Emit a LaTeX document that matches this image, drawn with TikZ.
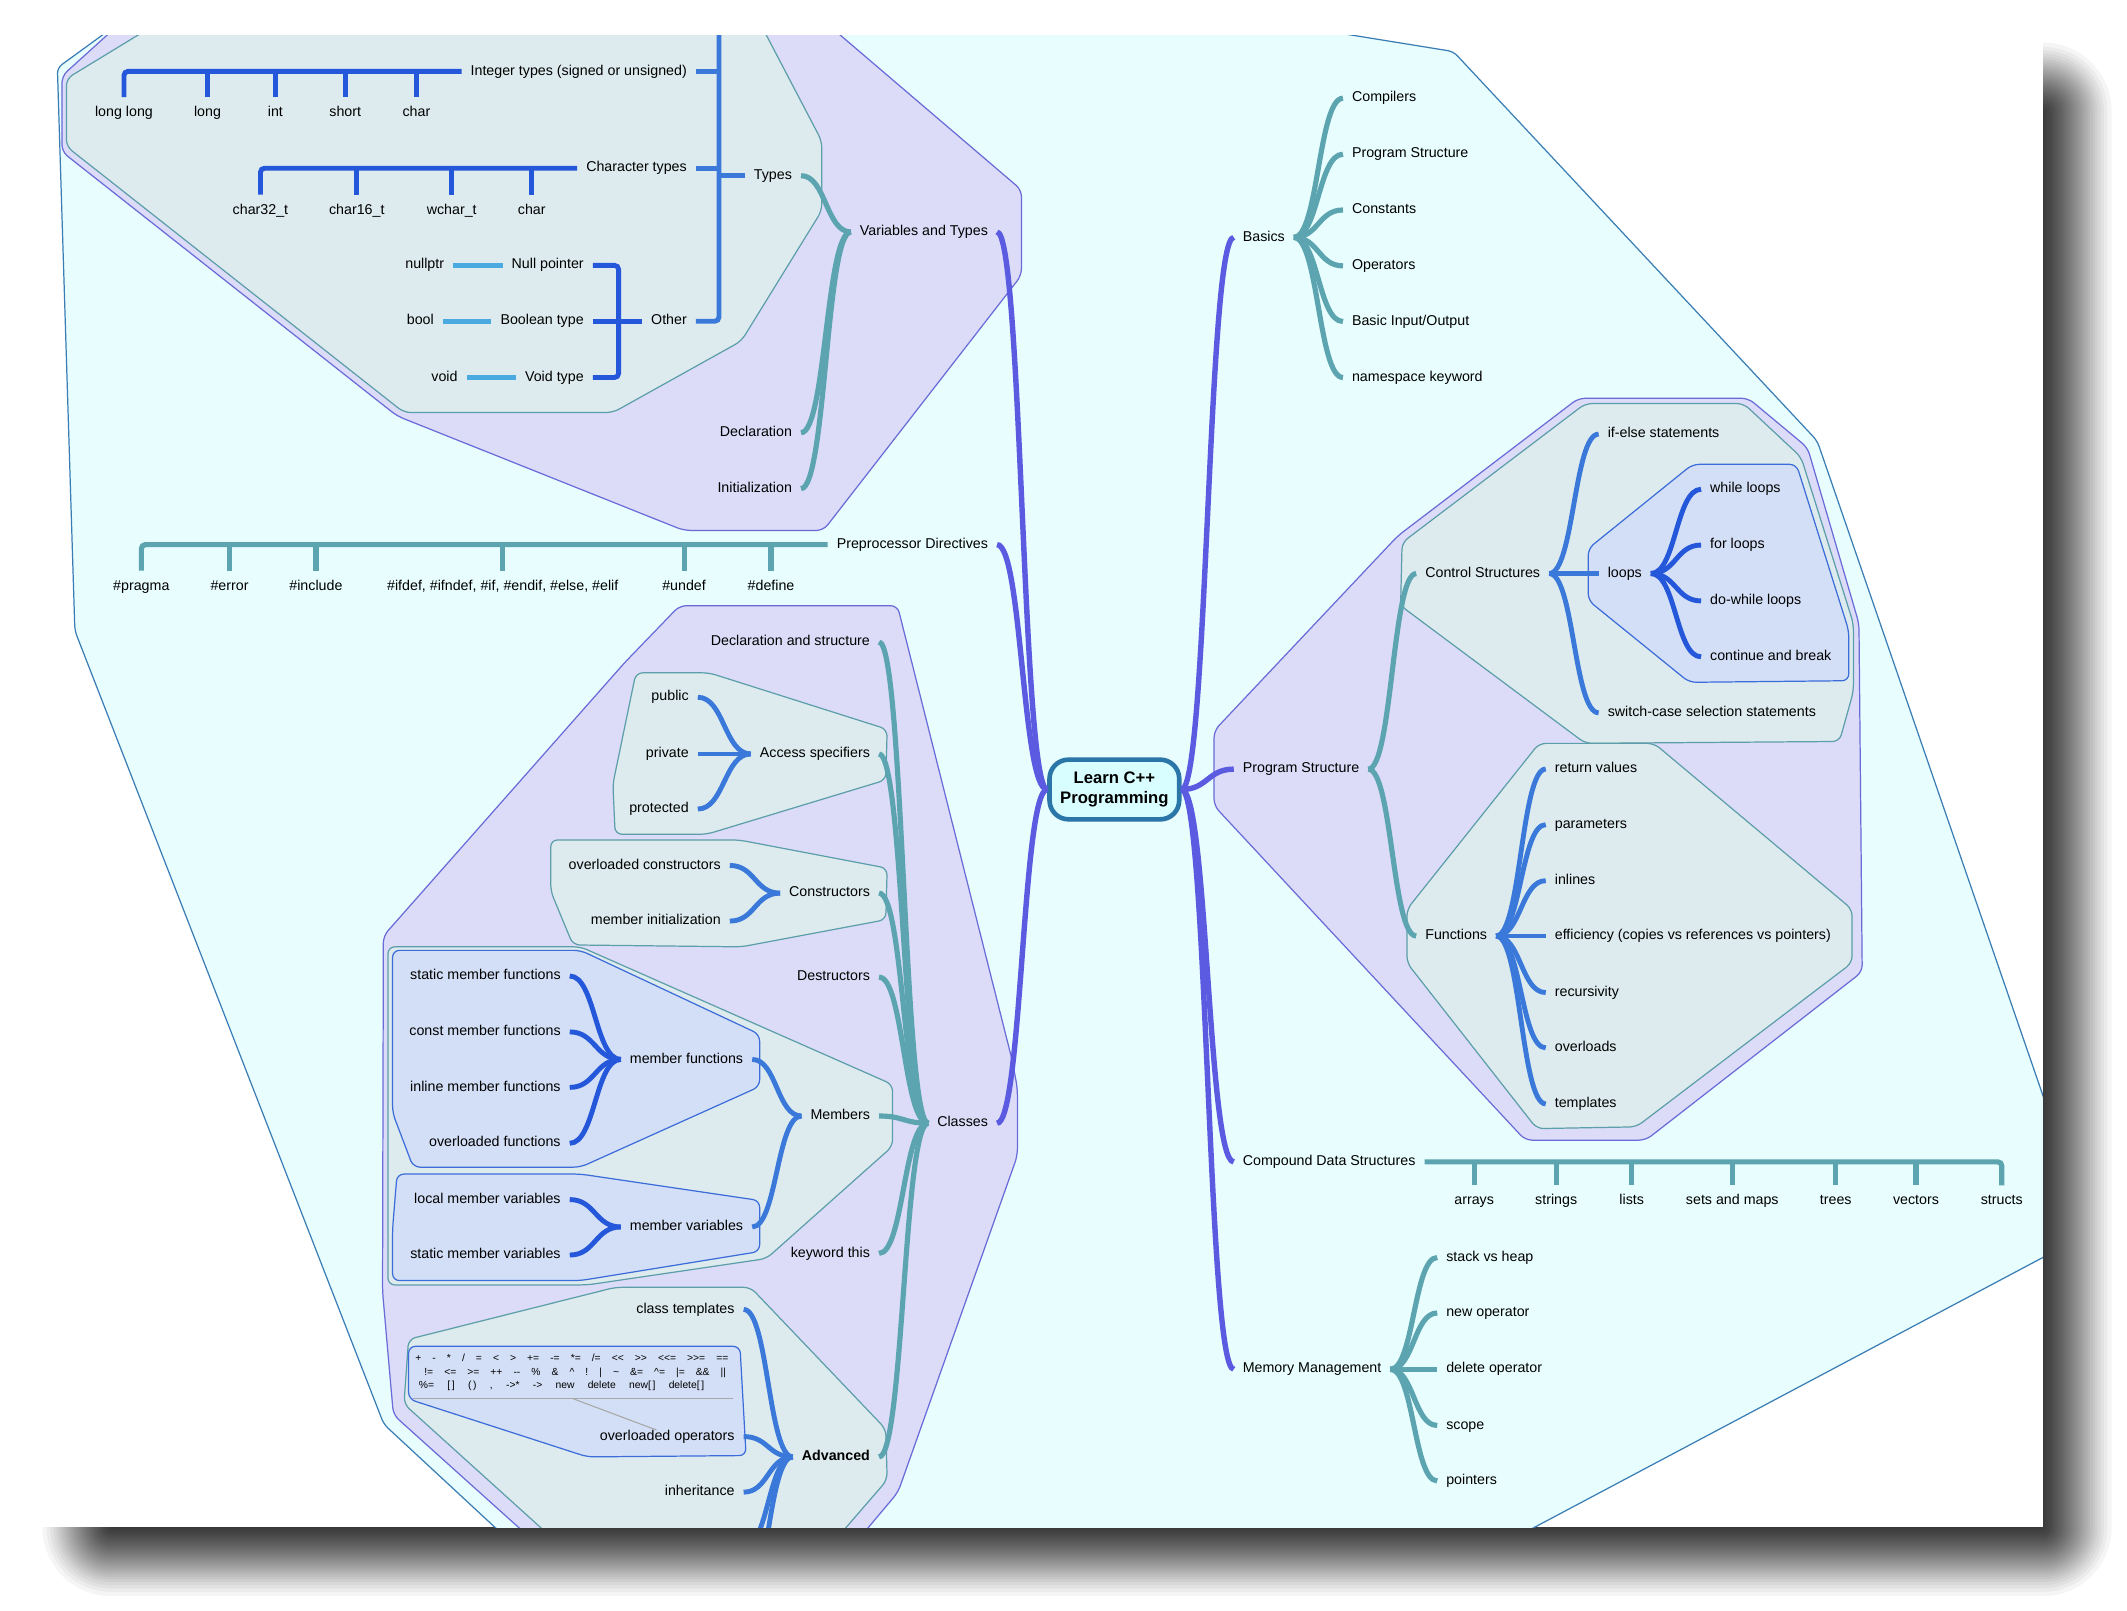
\documentclass[tikz,border=0pt]{standalone}
\usepackage{fontspec}
\setmainfont{Liberation Sans}
\usetikzlibrary{calc,shadows}
\definecolor{cyanfill}{HTML}{E8FDFD}
\definecolor{cyanline}{HTML}{3A7DB5}
\definecolor{lavfill}{HTML}{DCDCF8}
\definecolor{lavline}{HTML}{6A6AD8}
\definecolor{grfill}{HTML}{DDEBEE}
\definecolor{grline}{HTML}{5C9EA9}
\definecolor{blfill}{HTML}{D3DFF6}
\definecolor{blline}{HTML}{3C6CD9}
\definecolor{lkroot}{HTML}{5B5BE1}
\definecolor{lkteal}{HTML}{5BA4B0}
\definecolor{lkmed}{HTML}{3A78D9}
\definecolor{lkdark}{HTML}{2457D9}
\definecolor{lklight}{HTML}{4BA9E1}
\definecolor{rootfill}{HTML}{D8FEFF}
\definecolor{rootline}{HTML}{2A76A8}
\definecolor{notegray}{HTML}{A8A8A8}
\newcommand\lblfont{\fontsize{10.5}{12.6}\selectfont}
\newcommand\opfont{\fontsize{7.6}{9}\selectfont}
\begin{document}
\begin{tikzpicture}[x=1pt,y=-1pt,
  lbl/.style={inner xsep=6.5pt,inner ysep=6.5pt,text height=7.6pt,text depth=2.2pt,font=\lblfont,text=black},
  lw/.style={lbl,anchor=west},
  le/.style={lbl,anchor=east},
  ln/.style={lbl,anchor=north},
  mm/.style={to path={let \p1=(\tikztostart),\p2=(\tikztotarget),\p3=($(\tikztostart)!0.5!(\tikztotarget)$) in .. controls (\x3,\y1) and (\x3,\y2) .. (\tikztotarget)}},
  Lone/.style={draw=lkroot,line width=4pt},
  Ltwo/.style={draw=lkteal,line width=3.8pt},
  Lthree/.style={draw=lkmed,line width=3.6pt},
  Lfour/.style={draw=lkdark,line width=3.6pt},
  Lfive/.style={draw=lklight,line width=3.6pt},
  rc/.style={rounded corners=3pt},
  czero/.style={fill=cyanfill,draw=cyanline,line width=0.9pt,rounded corners=4pt},
  cone/.style={fill=lavfill,draw=lavline,line width=0.9pt,rounded corners=5pt},
  ctwo/.style={fill=grfill,draw=grline,line width=0.9pt,rounded corners=5pt},
  cthree/.style={fill=blfill,draw=blline,line width=0.9pt,rounded corners=5pt},
  opline/.style={anchor=west,inner sep=0pt,font=\opfont,text=black}
]
\useasboundingbox (0,0) rectangle (1568,1187.6);
\fill[white] (0,0) rectangle (1568,1187.6);
% card shadow (soft, towards the lower right)
\foreach \k in {1,...,34} {
  \pgfmathsetmacro\se{56*(1-(\k/34)^(0.6667))}
  \pgfmathsetmacro\sg{\se-28}
  \pgfmathsetmacro\sr{max(\se,1)}
  \fill[black,opacity=0.04,rounded corners=\sr pt] ({54-\sg},{54-\sg}) rectangle ({1534+\sg},{1154+\sg});
}
\fill[white] (26,26) rectangle (1506,1126);
\begin{scope}
\clip (26,26) rectangle (1506,1126);
% ---------- clusters
\path[czero] (100,8) -- (886,8) -- (1071.4,38) -- (1339.6,325) -- (1540.8,908.5) -- (1057.5,1165) -- (407,1165) -- (283,1050) -- (55.2,465) -- (42.3,50) -- cycle;
% depth 1
\path[cone] (102,5) -- (595,5) -- (753,140) -- (753,203) -- (607,391) -- (504,391) -- (292.8,306.7) -- (45.7,111.9) -- (45.7,56) -- cycle;
\path[cone] (501,446.5) -- (661.6,446.5) -- (746,781) -- (750,802) -- (750,852) -- (662,1100) -- (620,1150) -- (409,1150) -- (290,1043) -- (282,952) -- (282.6,690) -- (460.3,488.7) -- cycle;
\path[cone] (1163.6,293.6) -- (1288.8,293.6) -- (1332.5,330) -- (1370.4,459.7) -- (1372.8,716.4) -- (1213.2,840.5) -- (1124.4,840.5) -- (895,594) -- (895,538.7) -- (1030.5,395) -- cycle;
% depth 2
\path[ctwo] (136,5) -- (554,5) -- (605.8,104) -- (605.8,155.3) -- (546.5,251.4) -- (451.9,304.1) -- (297.8,304.1) -- (49,108) -- (49,58) -- cycle;
\path[ctwo] (468.8,496) -- (522.8,496) -- (654,537.6) -- (653,575) -- (521,615) -- (453.5,615) -- (451.8,578) -- cycle;
\path[ctwo] (406,619.2) -- (544.8,619.2) -- (654,640) -- (653,678) -- (546.5,698) -- (422.4,696.6) -- (406,657) -- cycle;
\path[ctwo] (286,698) -- (428,698) -- (658,799.5) -- (658,845) -- (565,927.8) -- (433.2,947.2) -- (286,947.2) -- cycle;
\path[ctwo] (453.6,949) -- (553.3,949) -- (653,1053.5) -- (654,1091) -- (603,1150) -- (425,1150) -- (297.8,1035) -- (301.2,987.3) -- cycle;
\path[ctwo] (1168.7,297.5) -- (1285.4,297.5) -- (1327.7,337) -- (1366.3,459.7) -- (1366.3,509.7) -- (1356,546.6) -- (1168.7,548) -- (1032.5,446.5) -- (1033.6,400) -- cycle;
\path[ctwo] (1134.6,548) -- (1219.4,548) -- (1365.3,670.3) -- (1365.3,709.8) -- (1206.3,830.7) -- (1132.9,832) -- (1037.2,709.8) -- (1037.2,670.3) -- cycle;
% depth 3
\path[cthree] (289.4,700.6) -- (428,700.6) -- (560,762.5) -- (560,801) -- (428,860.4) -- (304.6,860.4) -- (289.4,820.3) -- cycle;
\path[cthree] (292.7,865.5) -- (428,865.5) -- (560,885) -- (560,922.6) -- (428,944) -- (289.4,944) -- (289.4,905.8) -- cycle;
\path[cthree] (301.2,992.5) -- (545.5,992.5) -- (550,1073) -- (433,1074) -- (301.2,1031.4) -- cycle;
\path[cthree] (1247.7,342.3) -- (1324.3,342.3) -- (1362.9,465) -- (1362.9,501.8) -- (1245.3,503) -- (1170.8,442.6) -- (1170.8,404.4) -- cycle;

% ---------- root
\node[draw=rootline,line width=3.4pt,fill=rootfill,rounded corners=14pt,minimum width=95.6pt,minimum height=44pt,align=center,inner sep=0pt,
  font=\bfseries\fontsize{12.3}{15}\selectfont,drop shadow={opacity=0.35,shadow xshift=1.2pt,shadow yshift=-1.5pt}] (root) at (821.5,582) {Learn C++\\Programming};

% ---------- Variables and Types
\node[le] (vat) at (735,171) {Variables and Types};
\node[le] (types) at (590.5,129.5) {Types};
\node[le] (decl) at (590.5,319) {Declaration};
\node[le] (init) at (590.5,360.2) {Initialization};
\node[le] (inttypes) at (513,52.6) {Integer types (signed or unsigned)};
\node[le] (chartypes) at (513,124) {Character types};
\node[le] (other) at (513,236.8) {Other};
\node[le] (nullp) at (437,195.6) {Null pointer};
\node[le] (boolt) at (437,236.8) {Boolean type};
\node[le] (voidt) at (437,278.3) {Void type};
\node[le] (nullk) at (334.1,195.6) {nullptr};
\node[le] (boolk) at (326.5,236.8) {bool};
\node[le] (voidk) at (344,278.3) {void};
\node[ln] (ll) at (91.4,71.6) {long long};
\node[ln] (lng) at (153,71.6) {long};
\node[ln] (intk) at (203,71.6) {int};
\node[ln] (shortk) at (254.5,71.6) {short};
\node[ln] (chark) at (307,71.6) {char};
\node[ln] (cthreetwo) at (192,143.5) {char32\_t};
\node[ln] (conesix) at (263,143.5) {char16\_t};
\node[ln] (wch) at (333,143.5) {wchar\_t};
\node[ln] (chartwo) at (392,143.5) {char};
\coordinate (tsp) at (530,129.5);
\coordinate (tsptop) at (530,8);
\coordinate (osp) at (456,236.8);

% ---------- Preprocessor
\node[le] (prep) at (735,401.5) {Preprocessor Directives};
\node[ln] (pragma) at (104.2,420.7) {\#pragma};
\node[ln] (perror) at (169.2,420.7) {\#error};
\node[ln] (pinclude) at (232.9,420.7) {\#include};
\node[ln] (pifdef) at (370.6,420.7) {\#ifdef, \#ifndef, \#if, \#endif, \#else, \#elif};
\node[ln] (pundef) at (504.3,420.7) {\#undef};
\node[ln] (pdefine) at (568.4,420.7) {\#define};

% ---------- Classes
\node[le] (classes) at (735,828) {Classes};
\node[le] (dstruct) at (648,473.3) {Declaration and structure};
\node[le] (access) at (648,555.8) {Access specifiers};
\node[le] (ctors) at (648,658.4) {Constructors};
\node[le] (dtors) at (648,720.3) {Destructors};
\node[le] (members) at (648,822.7) {Members};
\node[le] (kthis) at (648,924) {keyword this};
\node[le,font=\bfseries\lblfont] (adv) at (648,1074) {Advanced};
\node[le] (publick) at (514.4,514) {public};
\node[le] (privatek) at (514.4,555.8) {private};
\node[le] (protectedk) at (514.4,596.4) {protected};
\node[le] (ovctor) at (538,638) {overloaded constructors};
\node[le] (meminit) at (538,679) {member initialization};
\node[le] (mfuncs) at (554.5,781) {member functions};
\node[le] (mvars) at (554.5,904.5) {member variables};
\node[le] (smf) at (420,719.5) {static member functions};
\node[le] (cmf) at (420,760.7) {const member functions};
\node[le] (imf) at (420,801.6) {inline member functions};
\node[le] (ovf) at (420,842.8) {overloaded functions};
\node[le] (lmv) at (420,884.3) {local member variables};
\node[le] (smv) at (420,925.2) {static member variables};
\node[le] (ctempl) at (548.2,965.3) {class templates};
\node[le] (ovop) at (548.2,1059) {overloaded operators};
\node[le] (inher) at (548.2,1100) {inheritance};
\coordinate (advxa) at (548.2,1141);
\coordinate (advxb) at (548.2,1182);
% operator note
\node[opline] (opla) at (306,1000.9) {\hbox to 230.7pt{+\hfill -\hfill *\hfill /\hfill =\hfill <\hfill >\hfill +=\hfill -=\hfill *=\hfill /=\hfill <{}<\hfill >{}>\hfill <{}<=\hfill >{}>=\hfill ==}};
\node[opline] (oplb) at (312.6,1011.7) {\hbox to 222.4pt{!=\hfill <=\hfill >=\hfill ++\hfill -{}-\hfill \%\hfill \&\hfill \textasciicircum\hfill !\hfill |\hfill \textasciitilde\hfill \&=\hfill \textasciicircum=\hfill |=\hfill \&\&\hfill ||}};
\node[opline] (oplc) at (308.6,1021.7) {\hbox to 210.4pt{\%=\hfill [\,]\hfill (\,)\hfill ,\hfill -{}>*\hfill -{}>\hfill new\hfill delete\hfill new[\,]\hfill delete[\,]}};
\coordinate (nla) at (304.7,1030.8);
\coordinate (nlb) at (540.6,1030.8);
\coordinate (nlc) at (422.7,1031.2);
\coordinate (nld) at (484,1054.2);
\draw[notegray,line width=0.8pt] (nla) -- (nlb);
\draw[notegray,line width=0.8pt] (nlc) -- (nld);

% ---------- Right side
\node[lw] (basics) at (909.5,175) {Basics};
\node[lw] (compilers) at (990,72.4) {Compilers};
\node[lw] (pstructb) at (990,113.7) {Program Structure};
\node[lw] (consts) at (990,154.8) {Constants};
\node[lw] (opers) at (990,196) {Operators};
\node[lw] (bio) at (990,237) {Basic Input/Output};
\node[lw] (nsk) at (990,278.3) {namespace keyword};
\node[lw] (pstruct) at (909.5,567) {Program Structure};
\node[lw] (ctrl) at (1044,422.8) {Control Structures};
\node[lw] (funcs) at (1044,690) {Functions};
\node[lw] (ifelse) at (1178.5,320) {if-else statements};
\node[lw] (loops) at (1178.5,422.8) {loops};
\node[lw] (switchc) at (1178.5,525.5) {switch-case selection statements};
\node[lw] (whilel) at (1254,360.7) {while loops};
\node[lw] (forl) at (1254,401.8) {for loops};
\node[lw] (dowhile) at (1254,443) {do-while loops};
\node[lw] (contb) at (1254,484.2) {continue and break};
\node[lw] (retv) at (1139.5,566.9) {return values};
\node[lw] (params) at (1139.5,607.9) {parameters};
\node[lw] (inl) at (1139.5,649.2) {inlines};
\node[lw] (effic) at (1139.5,690) {efficiency (copies vs references vs pointers)};
\node[lw] (recur) at (1139.5,731.7) {recursivity};
\node[lw] (ovl) at (1139.5,772.5) {overloads};
\node[lw] (tmpl) at (1139.5,813.8) {templates};
\node[lw] (cds) at (909.5,856.5) {Compound Data Structures};
\node[ln] (arrays) at (1086.7,873.9) {arrays};
\node[ln] (strings) at (1147.2,873.9) {strings};
\node[ln] (lists) at (1202.9,873.9) {lists};
\node[ln] (setsmaps) at (1277,873.9) {sets and maps};
\node[ln] (trees) at (1353.3,873.9) {trees};
\node[ln] (vectors) at (1412.4,873.9) {vectors};
\node[ln] (structs) at (1475.7,873.9) {structs};
\node[lw] (memm) at (909.5,1009.4) {Memory Management};
\node[lw] (stackheap) at (1059.5,927) {stack vs heap};
\node[lw] (newop) at (1059.5,967.9) {new operator};
\node[lw] (delop) at (1059.5,1009.4) {delete operator};
\node[lw] (scp) at (1059.5,1050.8) {scope};
\node[lw] (ptrs) at (1059.5,1091.7) {pointers};

% ---------- connectors
% root level
\foreach \nm in {vat,prep,classes} \draw[Lone] (root.west) to[mm] (\nm.east);
\foreach \nm in {basics,pstruct,cds,memm} \draw[Lone] (root.east) to[mm] (\nm.west);
% Variables and Types
\foreach \nm in {types,decl,init} \draw[Ltwo] (vat.west) to[mm] (\nm.east);
\draw[Lthree] (types.west) -- (tsp);
\draw[Lthree,rc] (other.east) -| (tsptop);
\draw[Lthree] (inttypes.east) -- (inttypes.east -| tsp);
\draw[Lthree] (chartypes.east) -- (chartypes.east -| tsp);
\draw[Lfour,rc] (inttypes.west) -| (ll.north);
\foreach \nm in {lng,intk,shortk,chark} \draw[Lfour] (\nm.north |- inttypes.west) -- (\nm.north);
\draw[Lfour,rc] (chartypes.west) -| (cthreetwo.north);
\foreach \nm in {conesix,wch,chartwo} \draw[Lfour] (\nm.north |- chartypes.west) -- (\nm.north);
\draw[Lfour,rc] (nullp.east) -| (osp) |- (voidt.east);
\draw[Lfour] (boolt.east) -- (other.west);
\draw[Lfive] (nullp.west) -- (nullk.east);
\draw[Lfive] (boolt.west) -- (boolk.east);
\draw[Lfive] (voidt.west) -- (voidk.east);
% Preprocessor
\draw[Ltwo,rc] (prep.west) -| (pragma.north);
\foreach \nm in {perror,pinclude,pifdef,pundef,pdefine} \draw[Ltwo] (\nm.north |- prep.west) -- (\nm.north);
% Classes
\foreach \nm in {dstruct,access,ctors,dtors,members,kthis,adv} \draw[Ltwo] (classes.west) to[mm] (\nm.east);
\foreach \nm in {publick,privatek,protectedk} \draw[Lthree] (access.west) to[mm] (\nm.east);
\foreach \nm in {ovctor,meminit} \draw[Lthree] (ctors.west) to[mm] (\nm.east);
\foreach \nm in {mfuncs,mvars} \draw[Lthree] (members.west) to[mm] (\nm.east);
\foreach \nm in {smf,cmf,imf,ovf} \draw[Lfour] (mfuncs.west) to[mm] (\nm.east);
\foreach \nm in {lmv,smv} \draw[Lfour] (mvars.west) to[mm] (\nm.east);
\foreach \nm in {ctempl.east,ovop.east,inher.east,advxa,advxb} \draw[Lthree] (adv.west) to[mm] (\nm);
% Basics
\foreach \nm in {compilers,pstructb,consts,opers,bio,nsk} \draw[Ltwo] (basics.east) to[mm] (\nm.west);
% Program Structure
\foreach \nm in {ctrl,funcs} \draw[Ltwo] (pstruct.east) to[mm] (\nm.west);
\foreach \nm in {ifelse,loops,switchc} \draw[Lthree] (ctrl.east) to[mm] (\nm.west);
\foreach \nm in {whilel,forl,dowhile,contb} \draw[Lfour] (loops.east) to[mm] (\nm.west);
\foreach \nm in {retv,params,inl,effic,recur,ovl,tmpl} \draw[Lthree] (funcs.east) to[mm] (\nm.west);
% Compound
\draw[Ltwo,rc] (cds.east) -| (structs.north);
\foreach \nm in {arrays,strings,lists,setsmaps,trees,vectors} \draw[Ltwo] (\nm.north |- cds.east) -- (\nm.north);
% Memory
\foreach \nm in {stackheap,newop,delop,scp,ptrs} \draw[Ltwo] (memm.east) to[mm] (\nm.west);
\end{scope}
\end{tikzpicture}
\end{document}
